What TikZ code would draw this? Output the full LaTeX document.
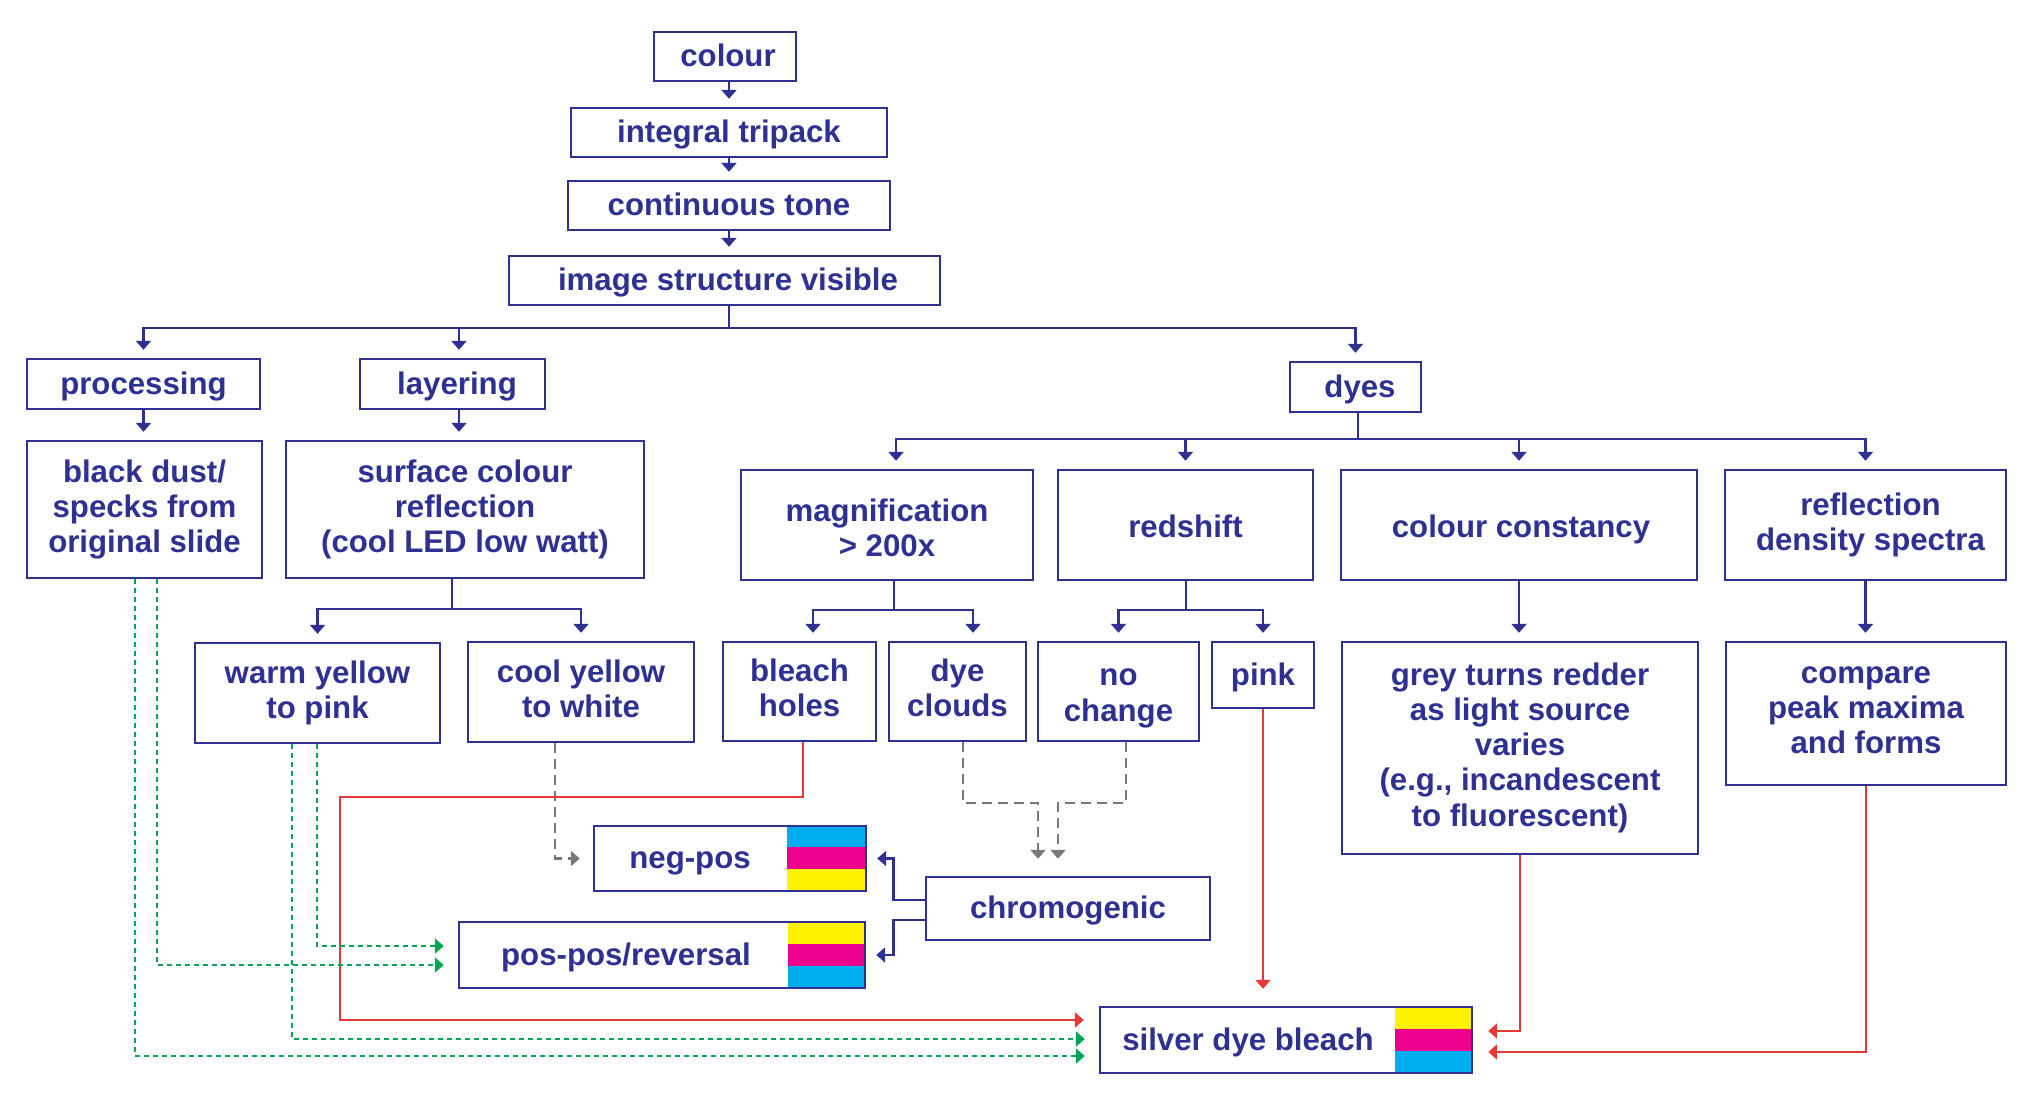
\documentclass[tikz,border=0pt]{standalone}
\usepackage{fontspec}
\setmainfont{Liberation Sans}
\usetikzlibrary{arrows.meta}
\definecolor{navy}{RGB}{46,49,146}
\definecolor{myred}{RGB}{229,57,53}
\definecolor{mygreen}{RGB}{0,166,81}
\definecolor{mygrey}{RGB}{120,120,120}
\definecolor{mycyan}{RGB}{0,174,239}
\definecolor{mymag}{RGB}{236,0,140}
\definecolor{myyel}{RGB}{255,242,0}
\tikzset{
  corners/.style n args={4}{at={({(#1+#3)/2},{(#2+#4)/2})},
    minimum width={(#3-#1)*0.5pt}, minimum height={(#4-#2)*0.5pt}},
}
\begin{document}
\begin{tikzpicture}[x=0.5pt,y=-0.5pt,
  txt/.style={inner sep=0pt, align=center, text=navy,
    font=\bfseries\fontsize{15.6}{17.6}\selectfont,
    execute at begin node={\rule{0pt}{13.6pt}},
    execute at end node={\rule[-3.6pt]{0pt}{0pt}}},
  box/.style={txt, draw=navy, line width=1.2pt},
  tip/.style={-{Triangle[length=4.5pt,width=7.5pt]}},
  arr/.style={draw=navy, line width=1.4pt, tip, shorten >=4pt},
  ln/.style={draw=navy, line width=1.4pt},
  redarr/.style={draw=myred, line width=1.2pt, tip, shorten >=7.5pt},
  grnarr/.style={draw=mygreen, line width=1.2pt, tip, shorten >=7pt, dash pattern=on 2.5pt off 2pt},
  greyarr/.style={draw=mygrey, line width=1.2pt, tip, shorten >=6.5pt, dash pattern=on 5pt off 3pt},
]
\fill[white] (0,0) rectangle (2039,1097);
\useasboundingbox (0,0) rectangle (2039,1097);

% colour stripes
\fill[mycyan] (787,826) rectangle (866,847);
\fill[mymag] (787,847) rectangle (866,869);
\fill[myyel] (787,869) rectangle (866,891);
\fill[myyel] (788,922) rectangle (865,944);
\fill[mymag] (788,944) rectangle (865,966);
\fill[mycyan] (788,966) rectangle (865,988);
\fill[myyel] (1395,1007) rectangle (1472,1029);
\fill[mymag] (1395,1029) rectangle (1472,1051);
\fill[mycyan] (1395,1051) rectangle (1472,1073);

% nodes
\node[box, corners={654}{32}{796}{81}] (colour) {\hspace*{3pt}colour};
\node[box, corners={571}{108}{887}{157}] (tripack) {integral tripack};
\node[box, corners={568}{181}{890}{230}] (tone) {continuous tone};
\node[box, corners={509}{256}{940}{305}] (isv) {\hspace*{3.5pt}image structure visible};
\node[box, corners={27}{359}{260}{409}] (processing) {processing};
\node[box, corners={360}{359}{545}{409}] (layering) {\hspace*{4.5pt}layering};
\node[box, corners={1290}{362}{1421}{412}] (dyes) {\hspace*{4.5pt}dyes};
\node[box, corners={27}{441}{262}{578}] (blackdust) {black dust/\\specks from\\original slide};
\node[box, corners={286}{441}{644}{578}] (surface) {surface colour\\reflection\\(cool LED low watt)};
\node[box, corners={741}{470}{1033}{580}] (mag) {\rule{0pt}{17.6pt}magnification\\> 200x};
\node[box, corners={1058}{470}{1313}{580}] (redshift) {\rule{0pt}{15.6pt}redshift};
\node[box, corners={1341}{470}{1697}{580}] (constancy) {\rule{0pt}{15.6pt}\hspace*{2pt}colour constancy};
\node[box, corners={1725}{470}{2006}{580}] (reflection) {\hspace*{5pt}reflection\\\hspace*{5pt}density spectra};
\node[box, corners={195}{643}{440}{743}] (warm) {warm yellow\\to pink};
\node[box, corners={468}{642}{694}{742}] (cool) {cool yellow\\to white};
\node[box, corners={723}{642}{876}{741}] (bleach) {bleach\\holes};
\node[box, corners={889}{642}{1026}{741}] (clouds) {dye\\clouds};
\node[box, corners={1038}{642}{1199}{741}] (nochange) {\rule{0pt}{15.6pt}no\\change};
\node[box, corners={1212}{642}{1314}{708}] (pink) {pink};
\node[box, corners={1342}{642}{1698}{854}] (grey) {grey turns redder\\as light source\\varies\\(e.g., incandescent\\to fluorescent)};
\node[box, corners={1726}{642}{2006}{785}] (compare) {compare\\peak maxima\\and forms};
\node[box, corners={594}{826}{866}{891}] (negpos) {};
\node[txt] (negposlbl) at (690,858.5) {neg-pos};
\node[box, corners={459}{922}{865}{988}] (pospos) {};
\node[txt] (posposlbl) at (626,955) {pos-pos/reversal};
\node[box, corners={926}{877}{1210}{940}] (chromo) {chromogenic};
\node[box, corners={1100}{1007}{1472}{1073}] (silver) {};
\node[txt] (silverlbl) at (1248,1040) {silver dye bleach};

% helper coordinates
\coordinate (cx) at (729,0);
\coordinate (b1) at (729,328);
\coordinate (lx) at (459,0);
\coordinate (b2) at (452,609);
\coordinate (b3) at (1358,439);
\coordinate (mx) at (896,0);
\coordinate (b4) at (894,610);
\coordinate (bx) at (813,0);
\coordinate (dx) at (973,0);
\coordinate (b5) at (1186,610);
\coordinate (gx) at (555,0);
\coordinate (g2) at (963,0);
\coordinate (g3) at (1038,0);
\coordinate (g4) at (1126,0);
\coordinate (g5) at (1058,0);
\coordinate (rx) at (803,0);
\coordinate (k1) at (157,0);
\coordinate (k2) at (135,0);
\coordinate (k3) at (317,0);
\coordinate (k4) at (292,0);

% blue connectors
\draw[arr] (colour.south -| cx) -- (tripack.north -| cx);
\draw[arr] (tripack.south -| cx) -- (tone.north -| cx);
\draw[arr] (tone.south -| cx) -- (isv.north -| cx);
\draw[ln] (isv.south -| cx) -- (b1);
\draw[arr] (b1) -| (processing.north);
\draw[arr] (b1) -| (dyes.north);
\draw[arr] (b1 -| lx) -- (layering.north -| lx);
\draw[arr] (processing.south) -- (processing.south |- blackdust.north);
\draw[arr] (layering.south -| lx) -- (surface.north -| lx);
\draw[ln] (b2 |- surface.south) -- (b2);
\draw[arr] (b2) -| (warm.north);
\draw[arr] (b2) -| (cool.north);
\draw[ln] (b3 |- dyes.south) -- (b3);
\draw[arr] (b3) -| (mag.north -| mx);
\draw[arr] (b3) -| (redshift.north);
\draw[arr] (b3) -| (constancy.north);
\draw[arr] (b3) -| (reflection.north);
\draw[ln] (b4 |- mag.south) -- (b4);
\draw[arr] (b4) -| (bleach.north -| bx);
\draw[arr] (b4) -| (clouds.north -| dx);
\draw[ln] (b5 |- redshift.south) -- (b5);
\draw[arr] (b5) -| (nochange.north);
\draw[arr] (b5) -| (pink.north);
\draw[arr] (constancy.south) -- (constancy.south |- grey.north);
\draw[arr] (reflection.south) -- (reflection.south |- compare.north);
\draw[arr, shorten >=5pt] ([yshift=4.25pt]chromo.west) -- ++(-31,0) |- (negpos.east);
\draw[arr, shorten >=5pt] ([yshift=-5.75pt]chromo.west) -- ++(-31,0) |- (pospos.east);

% grey dashed
\draw[greyarr] (cool.south -| gx) |- (negpos.west);
\draw[greyarr, shorten >=8.5pt] (clouds.south -| g2) -- ++(0,61) -| (chromo.north -| g3);
\draw[greyarr, shorten >=8.5pt] (nochange.south -| g4) -- ++(0,61) -| (chromo.north -| g5);

% red
\draw[redarr] (bleach.south -| rx) -- ++(0,55) -| (340,1020) -- ([yshift=10pt]silver.west);
\draw[redarr, shorten >=8.5pt] (pink.south) -- (pink.south |- silver.north);
\draw[redarr] (grey.south) |- ([yshift=4.5pt]silver.east);
\draw[redarr] (compare.south) |- ([yshift=-6pt]silver.east);

% green
\draw[grnarr] (blackdust.south -| k1) |- ([yshift=-5pt]pospos.west);
\draw[grnarr] (blackdust.south -| k2) |- ([yshift=-8pt]silver.west);
\draw[grnarr] (warm.south -| k3) |- ([yshift=4.5pt]pospos.west);
\draw[grnarr] (warm.south -| k4) |- ([yshift=0.5pt]silver.west);
\end{tikzpicture}
\end{document}
